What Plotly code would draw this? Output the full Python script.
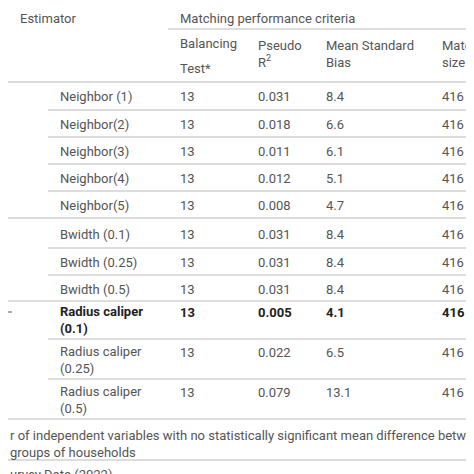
import plotly.graph_objects as go

estimators = ["Neighbor (1)", "Neighbor(2)", "Neighbor(3)", "Neighbor(4)", "Neighbor(5)",
              "Bwidth (0.1)", "Bwidth (0.25)", "Bwidth (0.5)",
              "Radius caliper<br>(0.1)", "Radius caliper<br>(0.25)", "Radius caliper<br>(0.5)"]
balancing = ["13"] * 11
pseudo_r2 = ["0.031", "0.018", "0.011", "0.012", "0.008", "0.031", "0.031", "0.031", "0.005", "0.022", "0.079"]
mean_bias = ["8.4", "6.6", "6.1", "5.1", "4.7", "8.4", "8.4", "8.4", "4.1", "6.5", "13.1"]
matched = ["416"] * 11
bold_row = 8

row_y = [88, 116, 143, 170, 197, 226, 254, 281, 304, 344, 384]
row_lines = [(74, 0), (102, 40), (129, 40), (156, 40), (183, 40), (210, 0), (240, 40), (267, 40),
             (293, 0), (331, 40), (371, 40), (411, 0), (452, 0)]
col_x = [50, 170, 248, 316, 432]

grey = "#555555"
fig = go.Figure()

def txt(x, y, s, bold=False, size=13, anchor="middle"):
    fig.add_annotation(x=x, y=y, text=f"<b>{s}</b>" if bold else s, showarrow=False,
                       xanchor="left", yanchor=anchor, align="left",
                       font=dict(family="Roboto", size=size, color="#222" if bold else grey))

txt(10, 10, "Estimator")
txt(170, 10, "Matching performance criteria")
txt(170, 35, "Balancing")
txt(170, 60, "Test*")
txt(248, 28, "Pseudo<br>R<sup>2</sup>", anchor="top")
txt(316, 28, "Mean Standard<br>Bias", anchor="top")
txt(432, 28, "Matche<br>size", anchor="top")

cols = [estimators, balancing, pseudo_r2, mean_bias, matched]
for i, y in enumerate(row_y):
    b = i == bold_row
    for c, x in zip(cols, col_x):
        if "<br>" in c[i]:
            txt(x, y - 10, c[i], bold=b, anchor="top")
        else:
            txt(x, y, c[i], bold=b)

txt(0, 418, "r of independent variables with no statistically significant mean difference between<br>groups of households", anchor="top")
txt(0, 466, "urvey Data (2022)")

fig.add_shape(type="line", x0=160, x1=480, y0=21, y1=21, line=dict(color="#dddddd", width=2))
for y, x0 in row_lines:
    fig.add_shape(type="line", x0=x0, x1=480, y0=y, y1=y, line=dict(color="#dddddd", width=2))
fig.add_shape(type="line", x0=0, x1=4, y0=304, y1=304, line=dict(color=grey, width=1))

fig.update_xaxes(range=[0, 474], visible=False)
fig.update_yaxes(range=[474, 0], visible=False)
fig.update_layout(width=474, height=474, margin=dict(l=0, r=0, t=0, b=0),
                  plot_bgcolor="white", paper_bgcolor="white", showlegend=False)
fig.write_html("out.html")
